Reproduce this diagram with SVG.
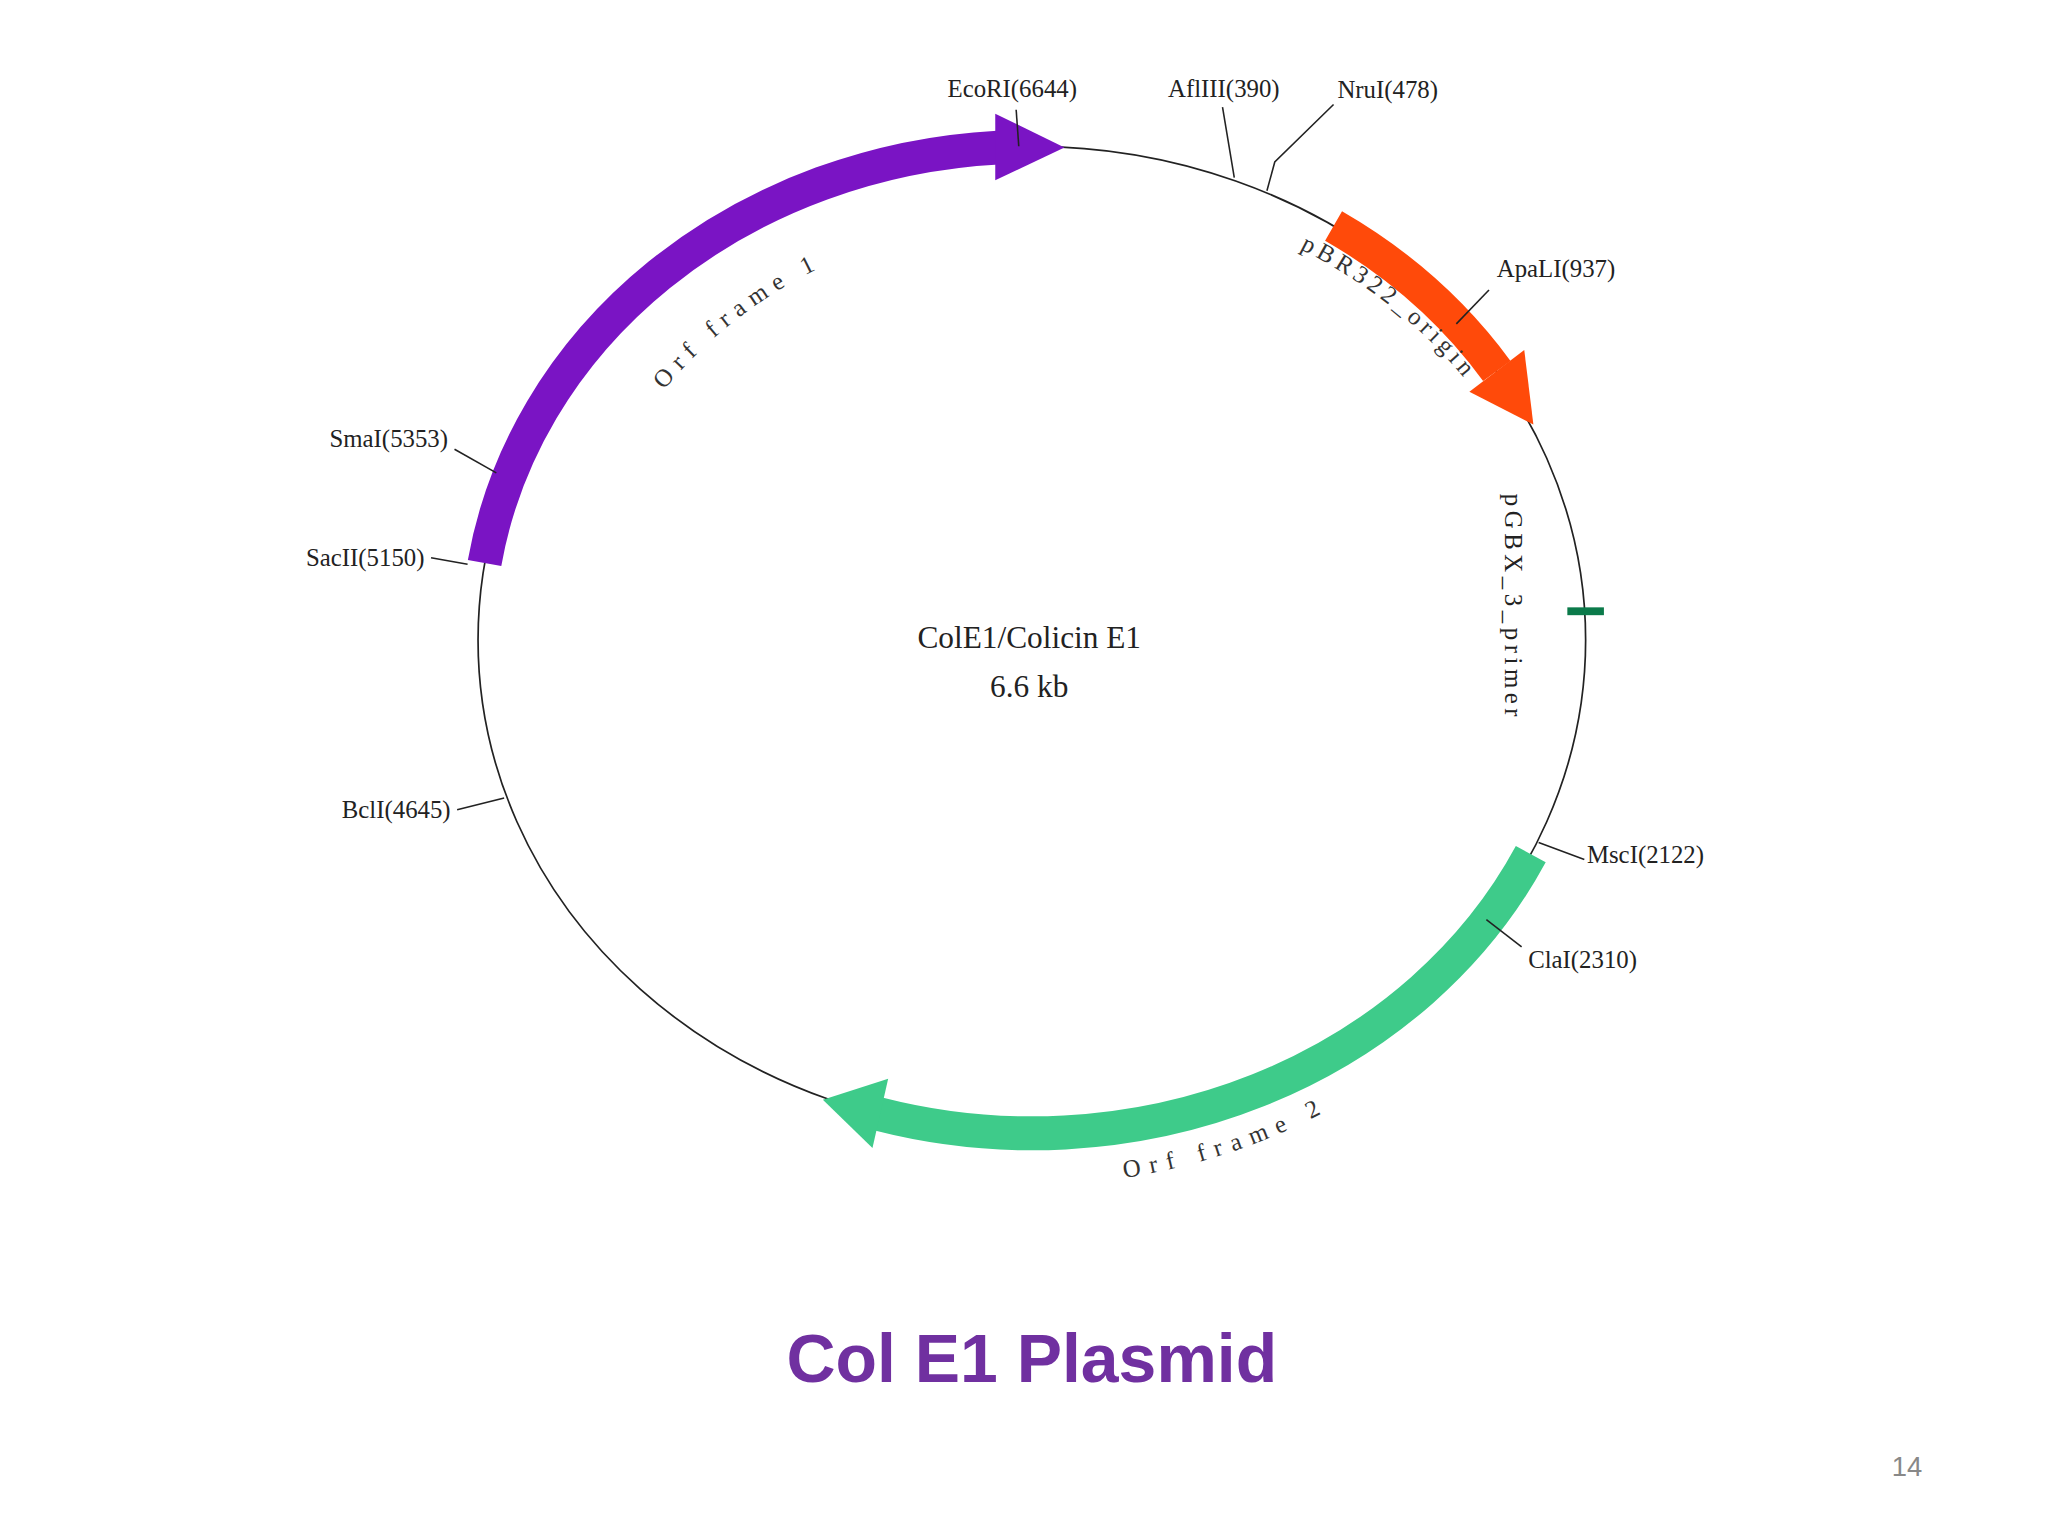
<svg xmlns="http://www.w3.org/2000/svg" width="2048" height="1536" viewBox="0 0 2048 1536">
<style>
.lbl{font-family:"Liberation Serif",serif;font-size:19px;fill:#222}
.band{font-family:"Liberation Serif",serif;font-size:19px;fill:#333;letter-spacing:6px}
.ln{stroke:#222;stroke-width:1.2;fill:none}
</style>
<defs>
<path id="p1" d="M 460 380 A 365 325 0 0 1 790 165"/>
<path id="p2" d="M 988 187 A 395 350 0 0 1 1163 354"/>
<path id="p3" d="M 751 906 A 455 418 0 0 0 1138 755"/>
</defs>
<rect width="2048" height="1536" fill="#fff"/>
<g transform="scale(1.30612)">
<g id="backbone"><ellipse cx="790" cy="490" rx="424" ry="378" fill="none" stroke="#222" stroke-width="1.3"/></g>
<g id="orf1">
<path d="M 371 431 A 424 378 0 0 1 764 113" fill="none" stroke="#7a14c4" stroke-width="26"/>
<polygon points="762,87 815,113 762,138" fill="#7a14c4"/>
<text class="band"><textPath href="#p1" startOffset="95">Orf frame 1</textPath></text>
</g>
<g id="pbr322">
<path d="M 1021 173 A 424 378 0 0 1 1146 284" fill="none" stroke="#ff4a0a" stroke-width="26"/>
<polygon points="1167,268 1174,325 1125,300" fill="#ff4a0a"/>
<text class="band" style="letter-spacing:3.5px"><textPath href="#p2" startOffset="8">pBR322_origin</textPath></text>
</g>
<g id="orf2">
<path d="M 1172 654 A 424 378 0 0 1 673 853" fill="none" stroke="#3ecb8a" stroke-width="26"/>
<polygon points="680,826 630,842 668,879" fill="#3ecb8a"/>
<text class="band" style="letter-spacing:7px"><textPath href="#p3" startOffset="110">Orf frame 2</textPath></text>
</g>
<g id="primer">
<rect x="1200" y="465" width="28" height="6" fill="#0b7a4a"/>
<text class="lbl" transform="translate(1152,378) rotate(90)" style="letter-spacing:3.5px">pGBX_3_primer</text>
</g>
<g id="connectors">
<path class="ln" d="M780 112 L778 84"/>
<path class="ln" d="M945 136 L936 82"/>
<path class="ln" d="M970 146 L976 124 L1021 80"/>
<path class="ln" d="M1115 248 L1140 222"/>
<path class="ln" d="M1178 645 L1213 658"/>
<path class="ln" d="M1138 704 L1165 725"/>
<path class="ln" d="M348 344 L380 362"/>
<path class="ln" d="M330 427 L358 432"/>
<path class="ln" d="M350 620 L386 611"/>
</g>
<g id="sites">
<text class="lbl" x="775" y="74" text-anchor="middle">EcoRI(6644)</text>
<text class="lbl" x="937" y="74" text-anchor="middle">AflIII(390)</text>
<text class="lbl" x="1024" y="75">NruI(478)</text>
<text class="lbl" x="1146" y="212">ApaLI(937)</text>
<text class="lbl" x="1215" y="661">MscI(2122)</text>
<text class="lbl" x="1170" y="741">ClaI(2310)</text>
<text class="lbl" x="343" y="342" text-anchor="end">SmaI(5353)</text>
<text class="lbl" x="325" y="433" text-anchor="end">SacII(5150)</text>
<text class="lbl" x="345" y="626" text-anchor="end">BclI(4645)</text>
</g>
<g id="center">
<text class="lbl" x="788" y="496" text-anchor="middle" style="font-size:24px">ColE1/Colicin E1</text>
<text class="lbl" x="788" y="534" text-anchor="middle" style="font-size:24px">6.6 kb</text>
</g>
<text x="790" y="1058" text-anchor="middle" font-family="'Liberation Sans',sans-serif" font-weight="bold" font-size="52" fill="#7030a0">Col E1 Plasmid</text>
<text x="1460" y="1130" text-anchor="middle" font-family="'Liberation Sans',sans-serif" font-size="21" fill="#888">14</text>
</g>
</svg>
